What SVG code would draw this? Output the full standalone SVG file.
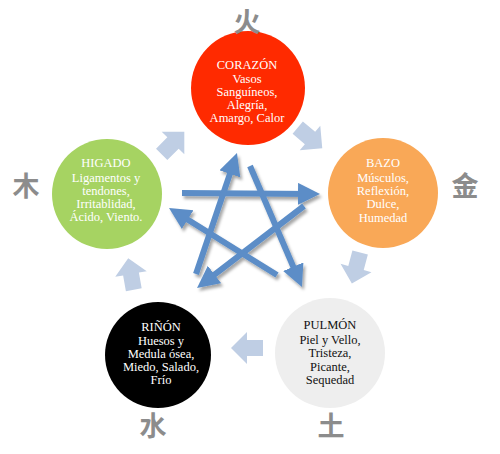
<svg xmlns="http://www.w3.org/2000/svg" width="500" height="454" viewBox="0 0 500 454">
<style>
.t{font-family:"Liberation Serif","DejaVu Serif",serif;font-size:12.5px;text-anchor:middle;fill:#fff}
.d{fill:#111}
.cj{font-family:"Noto Sans CJK SC","Noto Sans CJK JP",sans-serif;font-size:27px;font-weight:bold;fill:#8c8c8c;text-anchor:middle}
.blk{fill:#BFCEE4}
.st{stroke:#5B8DC7;stroke-width:6;fill:none;marker-end:url(#ah)}
</style>
<defs>
<marker id="ah" markerUnits="userSpaceOnUse" markerWidth="24" markerHeight="24" refX="14" refY="11" orient="auto">
<path d="M0,0 L22,11 L0,22 z" fill="#5B8DC7"/>
</marker>
<filter id="sh" x="-20%" y="-20%" width="140%" height="140%">
<feDropShadow dx="2" dy="3" stdDeviation="1.5" flood-color="#000" flood-opacity="0.35"/>
</filter>
<path id="ba" d="M-16,-8 L0,-8 L0,-16 L16,0 L0,16 L0,8 L-16,8 z"/>
</defs>

<g id="cycle-arrows">
<use href="#ba" class="blk" transform="translate(173,143) rotate(-45)"/>
<use href="#ba" class="blk" transform="translate(310,138) rotate(40)"/>
<use href="#ba" class="blk" transform="translate(356,268) rotate(105)"/>
<use href="#ba" class="blk" transform="translate(247,348) rotate(180)"/>
<use href="#ba" class="blk" transform="translate(131,274) rotate(-100)"/>
</g>

<g id="connectors" filter="url(#sh)">
<line class="st" x1="182" y1="193" x2="312" y2="194"/>
<line class="st" x1="196" y1="274" x2="234.4" y2="160.6"/>
<line class="st" x1="250" y1="166" x2="298.8" y2="279.6"/>
<line class="st" x1="304" y1="206" x2="203.4" y2="283.1"/>
<line class="st" x1="277" y1="275" x2="175.8" y2="212.2"/>
</g>

<g id="corazon">
<circle cx="248" cy="88" r="57" fill="#FF2A00"/>
<text class="t" x="247" y="69">CORAZÓN</text>
<text class="t" x="247" y="83">Vasos</text>
<text class="t" x="247" y="96">Sanguíneos,</text>
<text class="t" x="247" y="109">Alegría,</text>
<text class="t" x="247" y="122">Amargo, Calor</text>
</g>

<g id="higado">
<circle cx="107" cy="194" r="55" fill="#A6D362"/>
<text class="t" x="106" y="167">HIGADO</text>
<text class="t" x="106" y="182">Ligamentos y</text>
<text class="t" x="106" y="195">tendones,</text>
<text class="t" x="106" y="208">Irritablidad,</text>
<text class="t" x="106" y="221">Ácido, Viento.</text>
</g>

<g id="bazo">
<circle cx="383" cy="193" r="55" fill="#F9A857"/>
<text class="t" x="383" y="167">BAZO</text>
<text class="t" x="383" y="182">Músculos,</text>
<text class="t" x="383" y="195">Reflexión,</text>
<text class="t" x="383" y="208">Dulce,</text>
<text class="t" x="383" y="222">Humedad</text>
</g>

<g id="rinon">
<circle cx="158" cy="355" r="53" fill="#000"/>
<text class="t" x="161" y="331">RIÑÓN</text>
<text class="t" x="161" y="345">Huesos y</text>
<text class="t" x="161" y="358">Medula ósea,</text>
<text class="t" x="161" y="371">Miedo, Salado,</text>
<text class="t" x="161" y="384">Frío</text>
</g>

<g id="pulmon">
<circle cx="330" cy="353" r="55" fill="#EEEEEE"/>
<text class="t d" x="330" y="329">PULMÓN</text>
<text class="t d" x="330" y="344">Piel y Vello,</text>
<text class="t d" x="330" y="357">Tristeza,</text>
<text class="t d" x="330" y="371">Picante,</text>
<text class="t d" x="330" y="384">Sequedad</text>
</g>

<g id="elements">
<text class="cj" x="247" y="32">火</text>
<text class="cj" x="26" y="196">木</text>
<text class="cj" x="465" y="196">金</text>
<text class="cj" x="153" y="436">水</text>
<text class="cj" x="331" y="436">土</text>
</g>
</svg>
